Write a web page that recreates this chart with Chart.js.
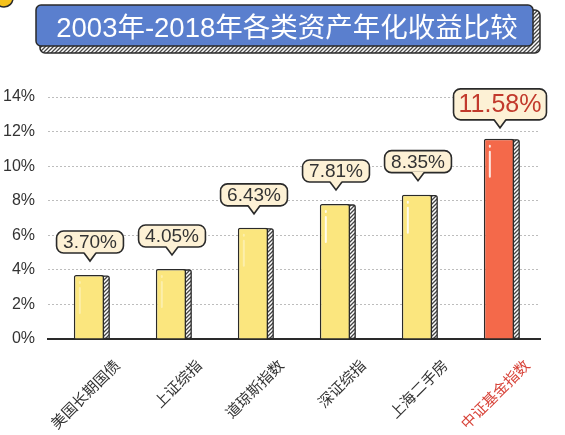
<!DOCTYPE html>
<html>
<head>
<meta charset="utf-8">
<script src="https://cdn.jsdelivr.net/npm/chart.js@4/dist/chart.umd.min.js"></script>
<style>
  html, body { margin: 0; padding: 0; background: #fff; }
  #wrap { width: 565px; height: 435px; position: relative; }
</style>
</head>
<body>
<div id="wrap"><canvas id="grafico"></canvas></div>
<script>
// Datos del gráfico
const categorias = ['美国长期国债', '上证综指', '道琼斯指数', '深证综指', '上海二手房', '中证基金指数'];
const rendimientos = [3.70, 4.05, 6.43, 7.81, 8.35, 11.58];
const ticksY = [0, 2, 4, 6, 8, 10, 12, 14];
const titulo = '2003年-2018年各类资产年化收益比较';

const FUENTE = "'Liberation Sans', 'Noto Sans CJK SC', sans-serif";
const AMARILLO = '#fbe67e';
const ROJO = '#f4694a';
const TINTA = '#2a2a2a';
const ultimo = categorias.length - 1;

// Patrón de rayas diagonales para la sombra
function crearRayas(ctx) {
    const c = document.createElement('canvas');
    c.width = 4; c.height = 4;
    const p = c.getContext('2d');
    p.fillStyle = '#fff';
    p.fillRect(0, 0, 4, 4);
    p.strokeStyle = '#444';
    p.lineWidth = 1.3;
    p.beginPath();
    p.moveTo(-1, 5); p.lineTo(5, -1);
    p.moveTo(-1, 1); p.lineTo(1, -1);
    p.moveTo(3, 5); p.lineTo(5, 3);
    p.stroke();
    return ctx.createPattern(c, 'repeat');
}

// Caja azul del título con su sombra y el texto
const cajaTitulo = {
    id: 'cajaTitulo',
    beforeDraw(chart) {
        const ctx = chart.ctx;
        ctx.save();
        const rayas = crearRayas(ctx);
        // sombra
        ctx.beginPath();
        ctx.roundRect(40, 10, 500, 43, 5);
        ctx.fillStyle = rayas;
        ctx.fill();
        ctx.lineWidth = 1.5;
        ctx.strokeStyle = TINTA;
        ctx.stroke();
        // caja
        ctx.beginPath();
        ctx.roundRect(36, 5, 497, 41, 5);
        ctx.fillStyle = '#5a7fce';
        ctx.fill();
        ctx.stroke();
        // texto del título
        ctx.fillStyle = '#fff';
        ctx.font = '27.5px ' + FUENTE;
        ctx.textAlign = 'center';
        ctx.textBaseline = 'middle';
        ctx.fillText(titulo, 287, 29);
        // círculo amarillo de la esquina
        ctx.beginPath();
        ctx.arc(4, -2, 9, 0, Math.PI * 2);
        ctx.fillStyle = '#f6c21c';
        ctx.fill();
        ctx.stroke();
        ctx.restore();
    }
};

// Sombra rayada a la derecha de cada barra y reflejo blanco
const sombraBarras = {
    id: 'sombraBarras',
    beforeDatasetsDraw(chart) {
        const ctx = chart.ctx;
        const rayas = crearRayas(ctx);
        ctx.save();
        chart.getDatasetMeta(0).data.forEach(bar => {
            const { x, y, base, width } = bar.getProps(['x', 'y', 'base', 'width'], true);
            const x0 = x + width / 2 - 2;
            ctx.beginPath();
            ctx.roundRect(x0, y + 1, 7, base - y - 1, [0, 2, 0, 0]);
            ctx.fillStyle = rayas;
            ctx.fill();
            ctx.lineWidth = 1.3;
            ctx.strokeStyle = TINTA;
            ctx.stroke();
        });
        ctx.restore();
    },
    afterDatasetsDraw(chart) {
        const ctx = chart.ctx;
        ctx.save();
        chart.getDatasetMeta(0).data.forEach((bar, i) => {
            const { x, y, width } = bar.getProps(['x', 'y', 'width'], true);
            const hx = x - width / 2 + 6;
            // los primeros casi no muestran el reflejo
            ctx.strokeStyle = i < 3 ? 'rgba(255,255,255,0.35)' : 'rgba(255,255,255,0.85)';
            ctx.lineCap = 'round';
            ctx.lineWidth = 2;
            ctx.beginPath();
            ctx.moveTo(hx, y + 7);
            ctx.lineTo(hx, y + 8);
            ctx.moveTo(hx, y + 13);
            ctx.lineTo(hx, y + 38);
            ctx.stroke();
        });
        ctx.restore();
    }
};

// Globos con el valor encima de cada barra
const globos = {
    id: 'globos',
    afterDraw(chart) {
        const ctx = chart.ctx;
        const meta = chart.getDatasetMeta(0);
        ctx.save();
        meta.data.forEach((bar, i) => {
            const { x, y } = bar.getProps(['x', 'y'], true);
            const grande = i === ultimo;
            const texto = rendimientos[i].toFixed(2) + '%';
            ctx.font = (grande ? '25px ' : '19px ') + FUENTE;
            const ancho = ctx.measureText(texto).width + (grande ? 10 : 13);
            const alto = grande ? 31 : 22;
            const punta = y - (grande ? 11 : 14);
            const abajo = punta - 8;
            const arriba = abajo - alto;
            const cx = x + 1;

            ctx.beginPath();
            ctx.roundRect(cx - ancho / 2, arriba, ancho, alto, 7);
            ctx.fillStyle = '#fdf1d5';
            ctx.fill();
            ctx.lineWidth = 1.6;
            ctx.strokeStyle = TINTA;
            ctx.stroke();

            // pico del globo
            ctx.beginPath();
            ctx.moveTo(cx - 6, abajo - 1);
            ctx.lineTo(cx, punta);
            ctx.lineTo(cx + 6, abajo - 1);
            ctx.closePath();
            ctx.fillStyle = '#fdf1d5';
            ctx.fill();
            ctx.beginPath();
            ctx.moveTo(cx - 6, abajo);
            ctx.lineTo(cx, punta);
            ctx.lineTo(cx + 6, abajo);
            ctx.stroke();

            ctx.fillStyle = grande ? '#c23a2c' : '#333';
            ctx.textAlign = 'center';
            ctx.textBaseline = 'middle';
            ctx.fillText(texto, cx, arriba + alto / 2 + 1);
        });
        ctx.restore();
    }
};

new Chart(document.getElementById('grafico'), {
    type: 'bar',
    data: {
        labels: categorias,
        datasets: [{
            data: rendimientos,
            backgroundColor: categorias.map((c, i) => i === ultimo ? ROJO : AMARILLO),
            borderColor: TINTA,
            borderWidth: 1.5,
            borderRadius: 2,
            borderSkipped: 'bottom',
            categoryPercentage: 1,
            barPercentage: 0.37
        }]
    },
    options: {
        responsive: true,
        maintainAspectRatio: false,
        animation: false,
        layout: { padding: { top: 97, right: 25, bottom: 0, left: 0 } },
        plugins: {
            legend: { display: false },
            tooltip: { enabled: false },
            title: { display: false }
        },
        scales: {
            x: {
                grid: { display: false },
                border: { display: true, color: TINTA, width: 2 },
                ticks: {
                    minRotation: 45,
                    maxRotation: 45,
                    autoSkip: false,
                    labelOffset: 29,
                    padding: 10,
                    color: ctx => ctx.index === ultimo ? '#d8443a' : '#333',
                    font: { family: FUENTE, size: 15 }
                },
                afterFit(scale) { scale.height = 96; }
            },
            y: {
                min: 0,
                max: 14,
                afterBuildTicks(scale) {
                    scale.ticks = ticksY.map(v => ({ value: v }));
                },
                grid: {
                    color: '#bdbdbd',
                    lineWidth: 1,
                    drawTicks: false
                },
                border: { display: false, dash: [2, 2] },
                ticks: {
                    padding: 13,
                    color: '#333',
                    font: { family: FUENTE, size: 16 },
                    callback: v => v + '%'
                },
                afterFit(scale) { scale.width = 48; }
            }
        }
    },
    plugins: [cajaTitulo, sombraBarras, globos]
});
</script>
</body>
</html>
